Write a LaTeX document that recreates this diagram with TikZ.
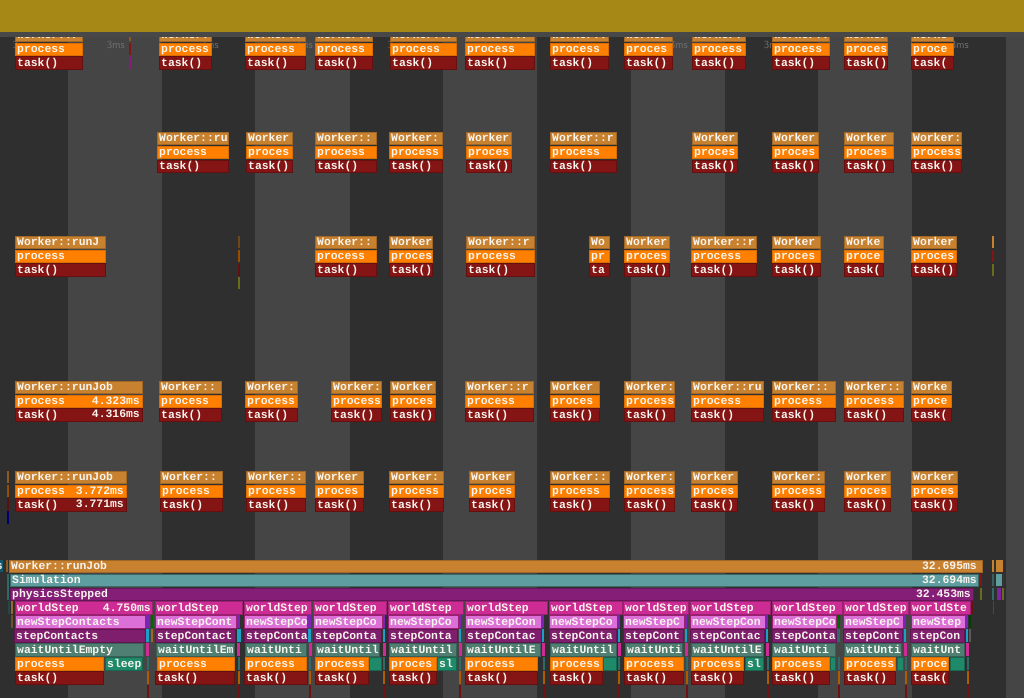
\documentclass[tikz,border=0pt]{standalone}
\usepackage{fontspec}
\setmonofont{Liberation Mono}
\definecolor{hdrGold}{HTML}{A58816}
\definecolor{hdrGrey}{HTML}{484848}
\definecolor{colA}{HTML}{2F2F2F}
\definecolor{colB}{HTML}{454545}
\definecolor{cWorker}{HTML}{C8812F}
\definecolor{cProcess}{HTML}{FF8000}
\definecolor{cTask}{HTML}{851515}
\definecolor{cWorld}{HTML}{CC2C94}
\definecolor{cNew}{HTML}{DD70D8}
\definecolor{cStep}{HTML}{801E6E}
\definecolor{cWait}{HTML}{4F7F72}
\definecolor{cSleep}{HTML}{1F8A6A}
\definecolor{cSim}{HTML}{5F9EA0}
\definecolor{cPhys}{HTML}{851E77}
\definecolor{cPur}{HTML}{7B25B5}
\definecolor{cCyan}{HTML}{1E9FC8}
\definecolor{cOli}{HTML}{6B6B1E}
\definecolor{cTeal}{HTML}{2F6A66}
\definecolor{cTick}{HTML}{707070}
\definecolor{txtc}{HTML}{F8F4EE}
\newcounter{tn}
\tikzset{
  lbl/.style={font=\ttfamily\bfseries\fontsize{11.4}{12}\selectfont,text=txtc,inner sep=0pt},
  tickl/.style={font=\sffamily\fontsize{11}{12}\selectfont,text=cTick,inner sep=0pt,anchor=base east},
  wkb/.style={fill=cWorker,draw=cWorker!80!black},
  prb/.style={fill=cProcess,draw=cProcess!85!black},
  tkb/.style={fill=cTask,draw=cTask!75!black},
  wob/.style={fill=cWorld,draw=cWorld!75!black},
  neb/.style={fill=cNew,draw=cWorld!75!black},
  stb/.style={fill=cStep,draw=cStep!75!black},
  wab/.style={fill=cWait,draw=cWait!75!black},
  slb/.style={fill=cSleep,draw=cSleep!75!black},
  sib/.style={fill=cSim,draw=cSim!65!black},
  phb/.style={fill=cPhys,draw=cPhys!75!black},
}
\newcommand{\fbar}[6]{%
  \stepcounter{tn}%
  \draw[#1,line width=0.8pt] (#2,#4) rectangle (#3,#5);
  \node[lbl,anchor=base west] (t\arabic{tn}) at (#2+2,#5-2.8) {#6};
}
\newcommand{\rtime}[3]{%
  \stepcounter{tn}%
  \node[lbl,anchor=base east] (t\arabic{tn}) at (#1,#2-2.8) {#3};
}
\newcommand{\sliv}[5]{\fill[fill=#1] (#2,#4) rectangle (#3,#5);}
\newcommand{\wblock}[6]{%
  \fbar{wkb}{#2}{#3}{#1}{#1+12}{#4}
  \fbar{prb}{#2}{#3}{#1+14}{#1+26}{#5}
  \fbar{tkb}{#2}{#3}{#1+27.5}{#1+40}{#6}
}
\begin{document}
\begin{tikzpicture}[x=1pt,y=-1pt]
\useasboundingbox (0,0) rectangle (1024,698);
\fill[fill=colB] (0,0) rectangle (1024,698);
\foreach \xa/\xb in {0/68,162/255,350/443,537/631,725/818,912/1006}
  \fill[fill=colA] (\xa,37) rectangle (\xb,698);
\foreach \xe [count=\xi] in {31,125,219,313,406,500,594,688,782,875,969}
  \node[tickl] (ms\xi) at (\xe,49) {3ms};
% row 1
\foreach \xa/\xb/\lw/\lp/\lt in {15/82/Worker::r/process/task(),159/211/Worker:/process/task(),245/305/Worker::/process/task(),315/372/Worker::/process/task(),390/456/Worker::r/process/task(),465/534/Worker::r/process/task(),550/608/Worker::/process/task(),624/672/Worker/proces/task(),692/745/Worker:/process/task(),772/829/Worker::/process/task(),844/887/Worker/proces/task(),911/953/Worke/proce/task(}
  {\wblock{29}{\xa}{\xb}{\lw}{\lp}{\lt}}
\sliv{cWorker!70!black}{129}{131}{37}{41}
\sliv{cTask}{129}{131}{43}{55}
\sliv{cPhys}{129}{131}{56}{69}
% row 2
\foreach \xa/\xb/\lw/\lp/\lt in {157/228/Worker::ru/process/task(),246/292/Worker/proces/task(),315/376/Worker::/process/task(),389/442/Worker:/process/task(),466/511/Worker/proces/task(),550/616/Worker::r/process/task(),692/737/Worker/proces/task(),772/818/Worker/proces/task(),844/893/Worker/proces/task(),911/961/Worker:/process/task()}
  {\wblock{132.5}{\xa}{\xb}{\lw}{\lp}{\lt}}
% row 3
\foreach \xa/\xb/\lw/\lp/\lt in {15/105/Worker::runJ/process/task(),315/376/Worker::/process/task(),389/432/Worker/proces/task(),466/534/Worker::r/process/task(),589/609/Wo/pr/ta,624/669/Worker/proces/task(),691/756/Worker::r/process/task(),772/820/Worker/proces/task(),844/883/Worke/proce/task(,911/956/Worker/proces/task()}
  {\wblock{236}{\xa}{\xb}{\lw}{\lp}{\lt}}
\sliv{cWorker!55!black}{238}{240}{236}{248}
\sliv{cProcess!60!black}{238}{240}{250}{262}
\sliv{cTask!75!black}{238}{240}{264}{276}
\sliv{cOli}{238}{240}{277}{289}
\sliv{cWorker}{992}{994}{236}{248}
\sliv{cTask}{992}{994}{250}{262}
\sliv{cOli}{992}{994}{264}{276}
% row 4
\foreach \xa/\xb/\lw/\lp/\lt in {15/142/Worker::runJob/process/task(),159/221/Worker::/process/task(),245/297/Worker:/process/task(),331/381/Worker:/process/task(),390/435.5/Worker/proces/task(),465/533/Worker::r/process/task(),550/599/Worker/proces/task(),624/674/Worker:/process/task(),691/763/Worker::ru/process/task(),772/835/Worker::/process/task(),844/903/Worker::/process/task(),911/951/Worke/proce/task(}
  {\wblock{381}{\xa}{\xb}{\lw}{\lp}{\lt}}
\rtime{140}{407}{4.323ms}
\rtime{140}{420.5}{4.316ms}
% row 5
\foreach \xa/\xb/\lw/\lp/\lt in {15/126/Worker::runJob/process/task(),160/222/Worker::/process/task(),246/305/Worker::/process/task(),315/363.5/Worker/proces/task(),389/443/Worker:/process/task(),469/514/Worker/proces/task(),550/609/Worker::/process/task(),624/674/Worker:/process/task(),691/737/Worker/proces/task(),772/824/Worker:/process/task(),844/890/Worker/proces/task(),911/957/Worker/proces/task()}
  {\wblock{471}{\xa}{\xb}{\lw}{\lp}{\lt}}
\rtime{124}{497}{3.772ms}
\rtime{124}{510.5}{3.771ms}
\sliv{cWorker!70!black}{7}{9}{471}{483}
\sliv{cProcess!60!black}{7}{9}{485}{497}
\sliv{cTask!70!black}{7}{9}{498}{511}
\sliv{blue!45!black}{7}{9}{511}{524}
% bottom stack
\sliv{cCyan!55!black}{0}{3}{560}{572}
\rtime{3}{572}{s}
\fbar{wkb}{9}{982}{560}{572}{Worker::runJob}
\rtime{977}{572}{32.695ms}
\fbar{sib}{10}{978}{574}{586}{Simulation}
\rtime{977}{586}{32.694ms}
\fbar{phb}{10}{973}{588}{600}{physicsStepped}
\rtime{971}{600}{32.453ms}
\sliv{cWorker!70!black}{6}{8}{560}{572}
\sliv{cTeal}{7}{9}{574}{600}
\sliv{cTeal!70!black}{8}{10}{601}{614}
\sliv{cWorker!70!colA}{11}{13}{601}{614}
\sliv{cWorker!40!colA}{11}{13}{615}{628}
\sliv{cTask}{979}{982}{574}{586}
\sliv{cOli}{980}{982}{588}{600}
\sliv{cWorker}{992}{994}{560}{572}
\sliv{cWorker}{996}{1003}{560}{572}
\sliv{cSim!60!black}{992}{994}{574}{586}
\sliv{cSim}{996}{1002}{574}{586}
\sliv{cTask}{1003}{1004}{574}{586}
\sliv{cTeal}{992}{994}{588}{600}
\sliv{cPur!70!cPhys}{997}{1001}{588}{600}
\sliv{cOli}{1002}{1004}{588}{600}
\sliv{cPur!30!colB}{993}{994}{601}{614}
\sliv{cTask!80!black}{971}{973}{601}{614}
\foreach \xa/\xb/\lt in {15/152/worldStep,155/242/worldStep,244/311/worldStep,313/386/worldStep,388/463/worldStep,465/547/worldStep,549/622/worldStep,623/688/worldStep,690/770/worldStep,772/842/worldStep,843/908/worldStep,910/970/worldSte}
  {\fbar{wob}{\xa}{\xb}{601}{614}{\lt}}
\rtime{151}{614}{4.750ms}
\foreach \xa/\xb/\lt in {15/145/newStepContacts,155/236/newStepCont,244/307/newStepCo,313/382/newStepCo,388/458/newStepCo,465/541/newStepCon,549/617/newStepCo,623/684/newStepC,690/765/newStepCon,772/836/newStepCo,843/903/newStepC,911/965/newStep}
  {\fbar{neb}{\xa}{\xb}{615}{628}{\lt}}
\foreach \xa/\xb in {146/150,237/240,308/311,383/385,459/461,542/544,618/620,685/687,766/768,904/906,966/968}
  {\sliv{cPur}{\xa}{\xb}{615}{628}}
\sliv{green!40!black}{151}{153}{615}{628}
\sliv{green!40!black}{837}{840}{615}{628}
\sliv{green!25!black}{969}{971}{615}{628}
\foreach \xa/\xb/\lt in {14/145/stepContacts,155/235/stepContact,244/307/stepConta,313/381/stepConta,388/457/stepConta,465/541/stepContac,549/616/stepConta,623/683/stepCont,690/764/stepContac,772/836/stepConta,843/902/stepCont,910/964/stepCon}
  {\fbar{stb}{\xa}{\xb}{629}{642}{\lt}}
\foreach \xa/\xb in {146/149,237/241,308/311,383/385,459/461,542/544,618/620,685/687,766/768,904/906,966/968}
  {\sliv{cCyan}{\xa}{\xb}{629}{642}}
\sliv{cWorker!80!black}{151}{152.5}{629}{642}
\sliv{cTeal}{837}{840}{629}{642}
\sliv{gray!70!black}{969}{971}{629}{642}
\foreach \xa/\xb/\lt in {15/143/waitUntilEmpty,156/234/waitUntilEm,245/306/waitUnti,315/379/waitUntil,389/456/waitUntil,465/540/waitUntilE,550/616/waitUntil,625/682/waitUnti,691/763/waitUntilE,772/835/waitUnti,844/901/waitUnti,911/964/waitUnt}
  {\fbar{wab}{\xa}{\xb}{643}{656}{\lt}}
\foreach \xa in {146,237,309,383,459,542,618,685,766,904,966}
  {\sliv{cWorld}{\xa}{\xa+2.5}{643}{656}}
\foreach \xa/\xb/\lt in {15/103/process,157/234/process,245/306/process,315/368/process,389/436/proces,465/537/process,550/602/process,624/683/process,691/743/process,772/829/process,844/895/process,911/948/proce}
  {\fbar{prb}{\xa}{\xb}{657}{670}{\lt}}
\fbar{slb}{105}{142}{657}{670}{sleep}
\fbar{slb}{369}{381}{657}{670}{}
\fbar{slb}{437}{456}{657}{670}{sl}
\fbar{slb}{603}{616}{657}{670}{}
\fbar{slb}{745}{763}{657}{670}{sl}
\fbar{slb}{830}{835}{657}{670}{}
\fbar{slb}{897}{903}{657}{670}{}
\fbar{slb}{950}{964}{657}{670}{}
\foreach \xa/\xb/\lt in {15/103/task(),155/234/task(),244/307/task(),315/368/task(),389/436/task(),465/537/task(),550/602/task(),624/683/task(),691/743/task(),772/829/task(),844/895/task(),911/948/task(}
  {\fbar{tkb}{\xa}{\xb}{671}{684}{\lt}}
\foreach \xa in {147,238,309,383,459,543,618,686,767,838,905,967} {
  \sliv{cTeal}{\xa}{\xa+2}{657}{670}
  \sliv{cProcess!70!black}{\xa}{\xa+2}{671}{684}
  \sliv{cTask!85!black}{\xa}{\xa+2}{685}{698}
}
% header drawn last: it cuts off the top row
\fill[fill=hdrGrey] (0,32) rectangle (1024,37);
\fill[fill=hdrGold] (0,0) rectangle (1024,32);
\end{tikzpicture}
\end{document}
